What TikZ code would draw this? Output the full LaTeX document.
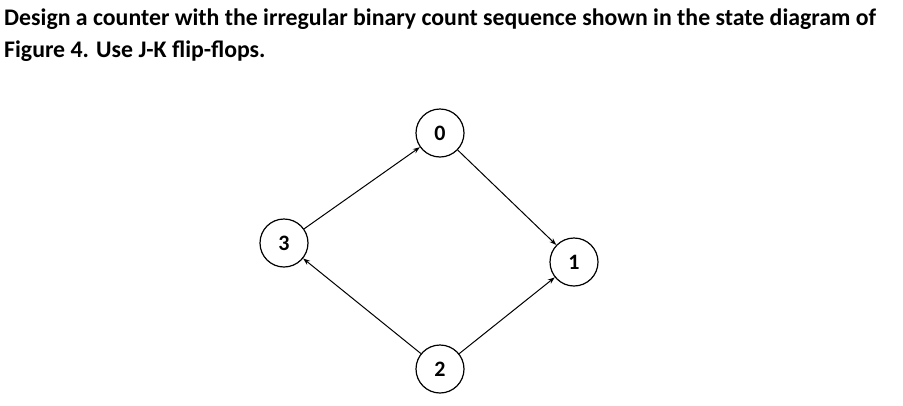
\documentclass[tikz,border=0pt]{standalone}
\usepackage{fontspec}
\setmainfont{Carlito}
\usetikzlibrary{arrows.meta}
\begin{document}
\begin{tikzpicture}[x=1pt,y=-1pt,
  st/.style={circle,draw,line width=1.2pt,minimum size=48pt,inner sep=0pt,font=\bfseries\fontsize{22}{22}\selectfont},
  ar/.style={-{Stealth[length=7pt,width=5pt,open]},line width=1pt},
  tx/.style={anchor=west,inner sep=0pt,font=\bfseries\fontsize{23.8}{26}\selectfont}]
\useasboundingbox (0,0) rectangle (903,405);
\node[tx] (t1) at (4,19) {Design a counter with the irregular binary count sequence shown in the state diagram of};
\node[tx] (t2) at (4,51) {Figure 4. Use J-K flip-flops.};
\node[st] (s0) at (440,133) {0};
\node[st] (s3) at (284,243) {3};
\node[st] (s1) at (574,262) {1};
\node[st] (s2) at (440,369) {2};
\draw[ar] (s3) -- (s0);
\draw[ar] (s0) -- (s1);
\draw[ar] (s2) -- (s1);
\draw[ar] (s2) -- (s3);
\end{tikzpicture}
\end{document}
